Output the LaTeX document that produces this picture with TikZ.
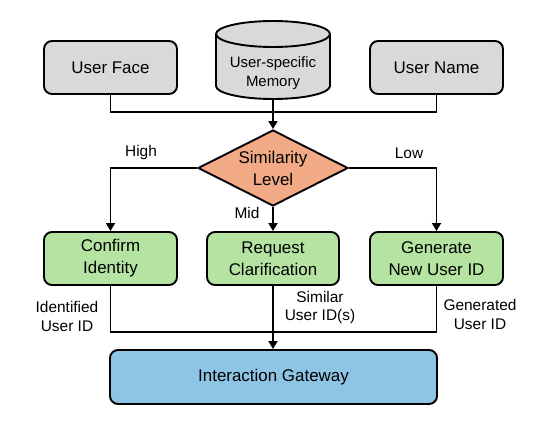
\documentclass[tikz,border=0pt]{standalone}
\usepackage{fontspec}
\setmainfont{Liberation Sans}
\usetikzlibrary{arrows.meta,shapes.geometric}
\definecolor{grayc}{HTML}{D9D9D9}
\definecolor{greenc}{HTML}{B4E3A2}
\definecolor{orangec}{HTML}{F2A985}
\definecolor{bluec}{HTML}{8EC5E5}
\begin{document}
\begin{tikzpicture}[x=1bp,y=-1bp,
  line width=1.8bp,
  box/.style={draw, line width=1.9bp, rounded corners=8bp, minimum width=133bp, minimum height=53bp,
    align=center, inner sep=0pt, font=\fontsize{17}{22}\selectfont},
  lbl/.style={align=center, inner sep=0pt, font=\fontsize{15.5}{19}\selectfont},
  arr/.style={-{Triangle[length=8bp,width=9bp]}},
  conn/.style={line width=1.8bp}]
\useasboundingbox (0,0) rectangle (548,436);
% top row
\node[box, fill=grayc] (face) at (110.5,67.5) {User Face};
\node[box, fill=grayc] (name) at (436.5,67.5) {User Name};
\draw[line width=1.9bp, fill=grayc] (216bp,-86bp) arc[start angle=180, end angle=360, x radius=57bp, y radius=13bp]
  -- (330bp,-34bp) arc[start angle=0, end angle=180, x radius=57bp, y radius=13bp] -- cycle;
\draw[line width=1.9bp] (216bp,-34bp) arc[start angle=180, end angle=360, x radius=57bp, y radius=13bp];
\node[lbl, font=\fontsize{15}{19}\selectfont] (mem) at (273,73) {User-specific\\Memory};
\coordinate (memb) at (273,99);
% diamond
\node[draw, line width=1.9bp, fill=orangec, diamond, aspect=2, minimum width=150bp, minimum height=76bp,
  inner sep=0pt, align=center, font=\fontsize{17}{22}\selectfont] (sim) at (273,168) {Similarity\\Level};
\coordinate (j1) at (273,112);
\draw[conn] (face.south) |- (j1) -| (name.south);
\draw[conn,arr] (memb) -- (sim.north);
% middle row
\node[box, fill=greenc] (conf) at (110.5,258.5) {Confirm\\Identity};
\node[box, fill=greenc, minimum width=132bp] (req) at (273,258.5) {Request\\Clarification};
\node[box, fill=greenc] (gen) at (436.5,258.5) {Generate\\New User ID};
\draw[conn,arr] (sim.west) -| (conf.north);
\draw[conn,arr] (sim.east) -| (gen.north);
\draw[conn,arr] (sim.south) -- (req.north);
\node[lbl] (high) at (141,153) {High};
\node[lbl] (low) at (409,153) {Low};
\node[lbl] (mid) at (247,213) {Mid};
% bottom
\node[box, fill=bluec, minimum width=327bp, minimum height=54bp] (gate) at (273.5,377) {Interaction Gateway};
\coordinate (j2) at (273,332);
\draw[conn] (conf.south) |- (j2) -| (gen.south);
\draw[conn,arr] (req.south) -- (req.south |- gate.north);
\node[lbl] (l1) at (67,316.5) {Identified\\User ID};
\node[lbl] (l2) at (320,307.5) {Similar\\User ID(s)};
\node[lbl] (l3) at (480,314.5) {Generated\\User ID};
\end{tikzpicture}
\end{document}
